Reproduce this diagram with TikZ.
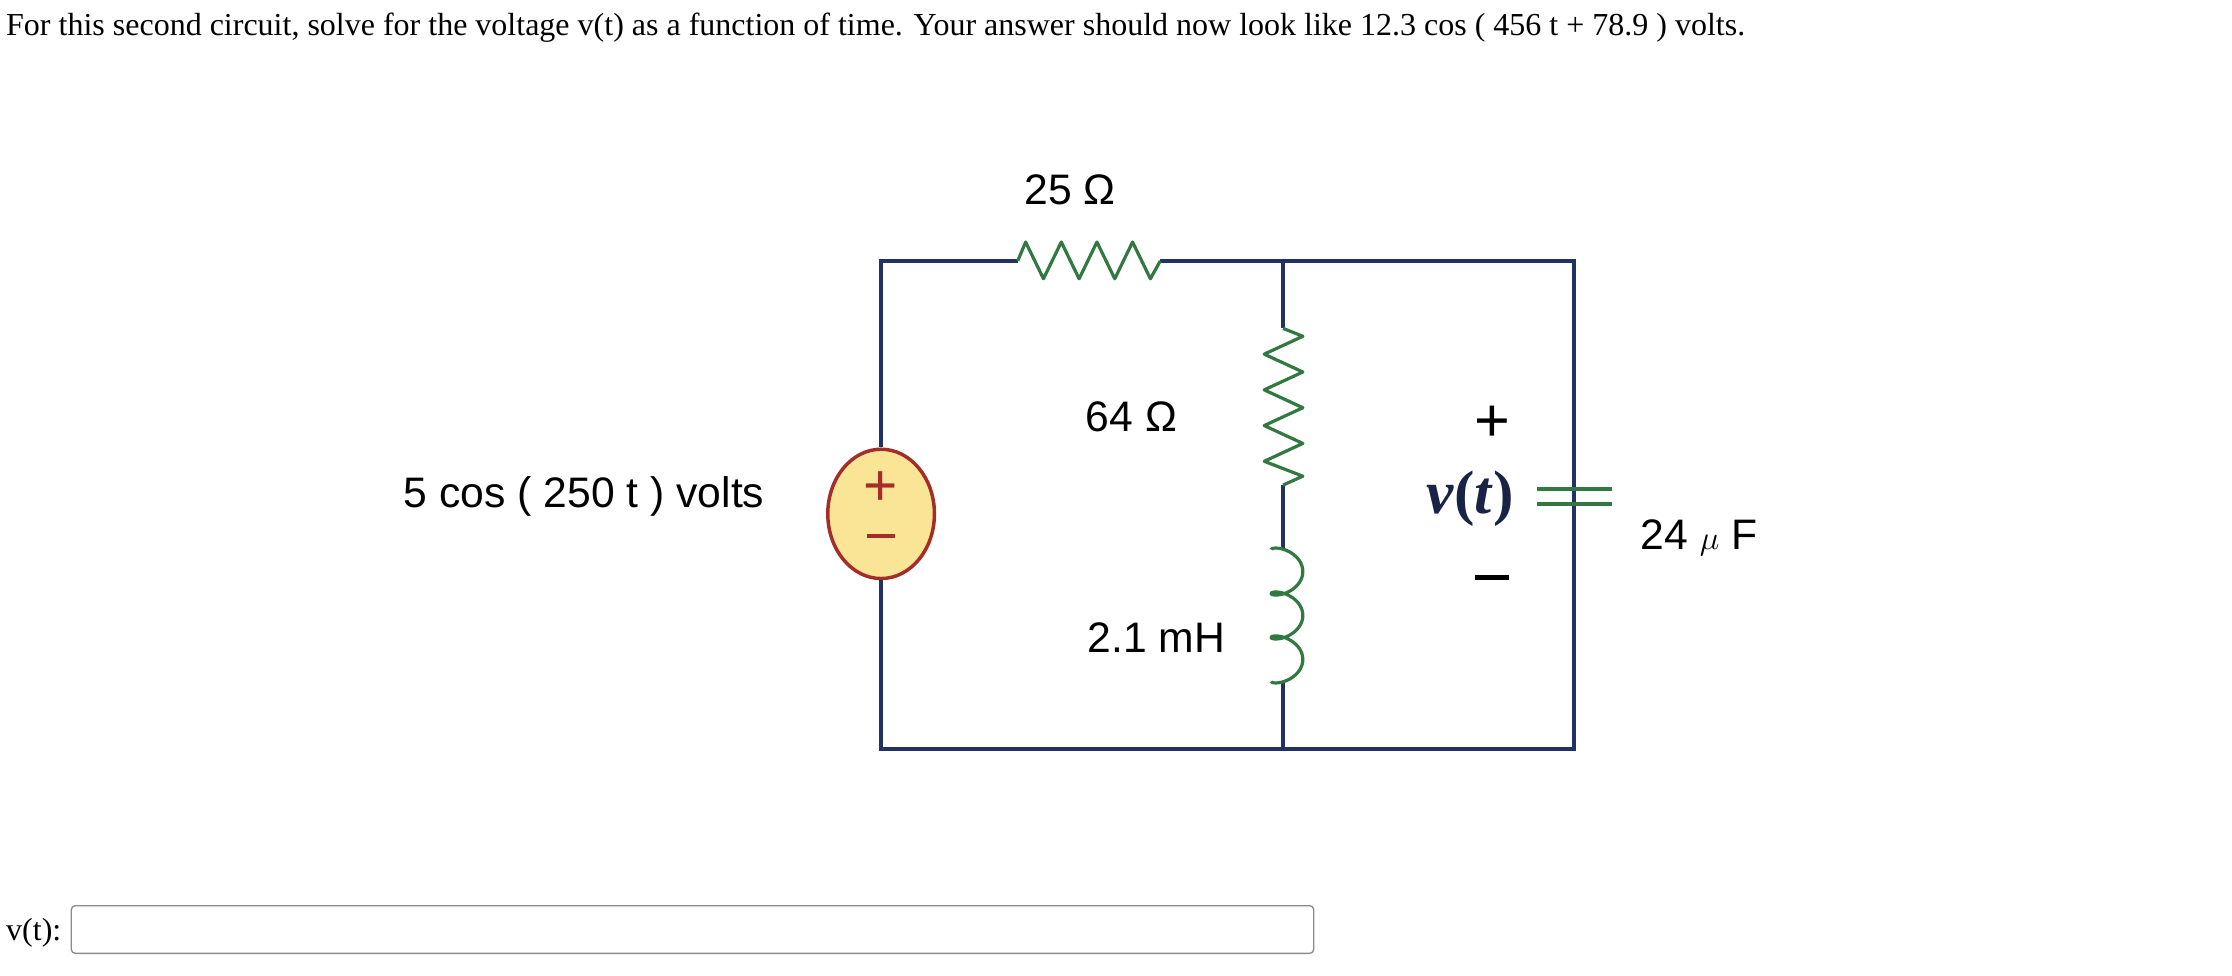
\documentclass[tikz,border=0pt]{standalone}
\usepackage{fontspec}
\setmainfont{Liberation Serif}
\setsansfont{Liberation Sans}
\usetikzlibrary{shapes.geometric}
\definecolor{wire}{RGB}{35,50,100}
\definecolor{comp}{RGB}{50,120,65}
\definecolor{srcfill}{RGB}{250,228,150}
\definecolor{srcline}{RGB}{165,45,40}
\begin{document}
\begin{tikzpicture}[x=0.7425pt,y=-0.744pt,
  wireline/.style={draw=wire,line width=2.6pt},
  compline/.style={draw=comp,line width=2.4pt,line join=round},
  lab/.style={font=\sffamily\fontsize{32}{36}\selectfont,inner sep=0pt},
  txt/.style={font=\fontsize{24}{28}\selectfont,inner sep=0pt,anchor=west}]
\useasboundingbox (0,0) rectangle (2232/0.99,976/0.992);
\node[txt] (title) at (6,28) {For this second circuit, solve for the voltage v(t) as a function of time. Your answer should now look like 12.3 cos ( 456 t + 78.9 ) volts.};
% corners
\coordinate (tl) at (890,263); \coordinate (tm) at (1296,263); \coordinate (tr) at (1590,263);
\coordinate (bl) at (890,755); \coordinate (bm) at (1296,755); \coordinate (br) at (1590,755);
\coordinate (r1a) at (1028,263); \coordinate (r1b) at (1172,263);
\coordinate (r2a) at (1296,331); \coordinate (r2b) at (1296,489);
\coordinate (la) at (1296,554); \coordinate (lb) at (1296,687);
\node[ellipse,draw=srcline,fill=srcfill,line width=2.6pt,minimum width=80pt,minimum height=97pt,inner sep=0pt] (src) at (890,518) {};
\node[text=srcline,font=\sffamily\fontsize{44}{44}\selectfont,inner sep=0pt] (splus) at (890,492) {+};
\draw[srcline,line width=2.8pt] (876,540) -- (904,540);
% wires
\draw[wireline] (src.north) -- (tl) -- (r1a);
\draw[wireline] (r1b) -- (tr) -- (br) -- (bl) -- (src.south);
\draw[wireline] (tm) -- (r2a);
\draw[wireline] (r2b) -- (la);
\draw[wireline] (lb) -- (bm);
% resistors
\draw[compline] (r1a) -- (1036,244) -- (1054,281) -- (1072,244) -- (1090,281) -- (1108,244) -- (1126,281) -- (1144,244) -- (1162,281) -- (r1b);
\draw[compline] (r2a) -- (1316,339) -- (1277,357) -- (1316,375) -- (1277,393) -- (1316,411) -- (1277,429) -- (1316,447) -- (1277,465) -- (1316,480) -- (r2b);
% inductor
\draw[compline,smooth,samples=140,domain=0:1080] plot ({1284+16*(1-cos(\x))},{554+\x/180*3.14159*7.05-10*sin(\x)});
% capacitor
\coordinate (ca) at (1553,493); \coordinate (cb) at (1628,493);
\coordinate (cc) at (1553,508); \coordinate (cd) at (1628,508);
\draw[compline,line width=3pt] (ca) -- (cb);
\draw[compline,line width=3pt] (cc) -- (cd);
% labels
\node[lab] (l25) at (1081,191) {25 Ω};
\node[lab] (l64) at (1143,420) {64 Ω};
\node[lab] (lL) at (1168,643) {2.1 mH};
\node[lab] (lC) at (1716,542) {24 $\mu$ F};
\node[lab] (lV) at (590,500) {5 cos ( 250 t ) volts};
\node[font=\sffamily\fontsize{46}{46}\selectfont,inner sep=0pt] (pl) at (1507,427) {+};
\draw[line width=4pt] (1490,582) -- (1524,582);
\node[inner sep=0pt,font=\bfseries\fontsize{46}{46}\selectfont,text=wire!70!black] (vt) at (1485,503) {\textit{v}(\textit{t})};
% answer
\node[txt] (ans) at (6,940) {v(t):};
\draw[draw=black!45,line width=1pt,rounded corners=3pt] (72,913) rectangle (1327,961);
\end{tikzpicture}
\end{document}
